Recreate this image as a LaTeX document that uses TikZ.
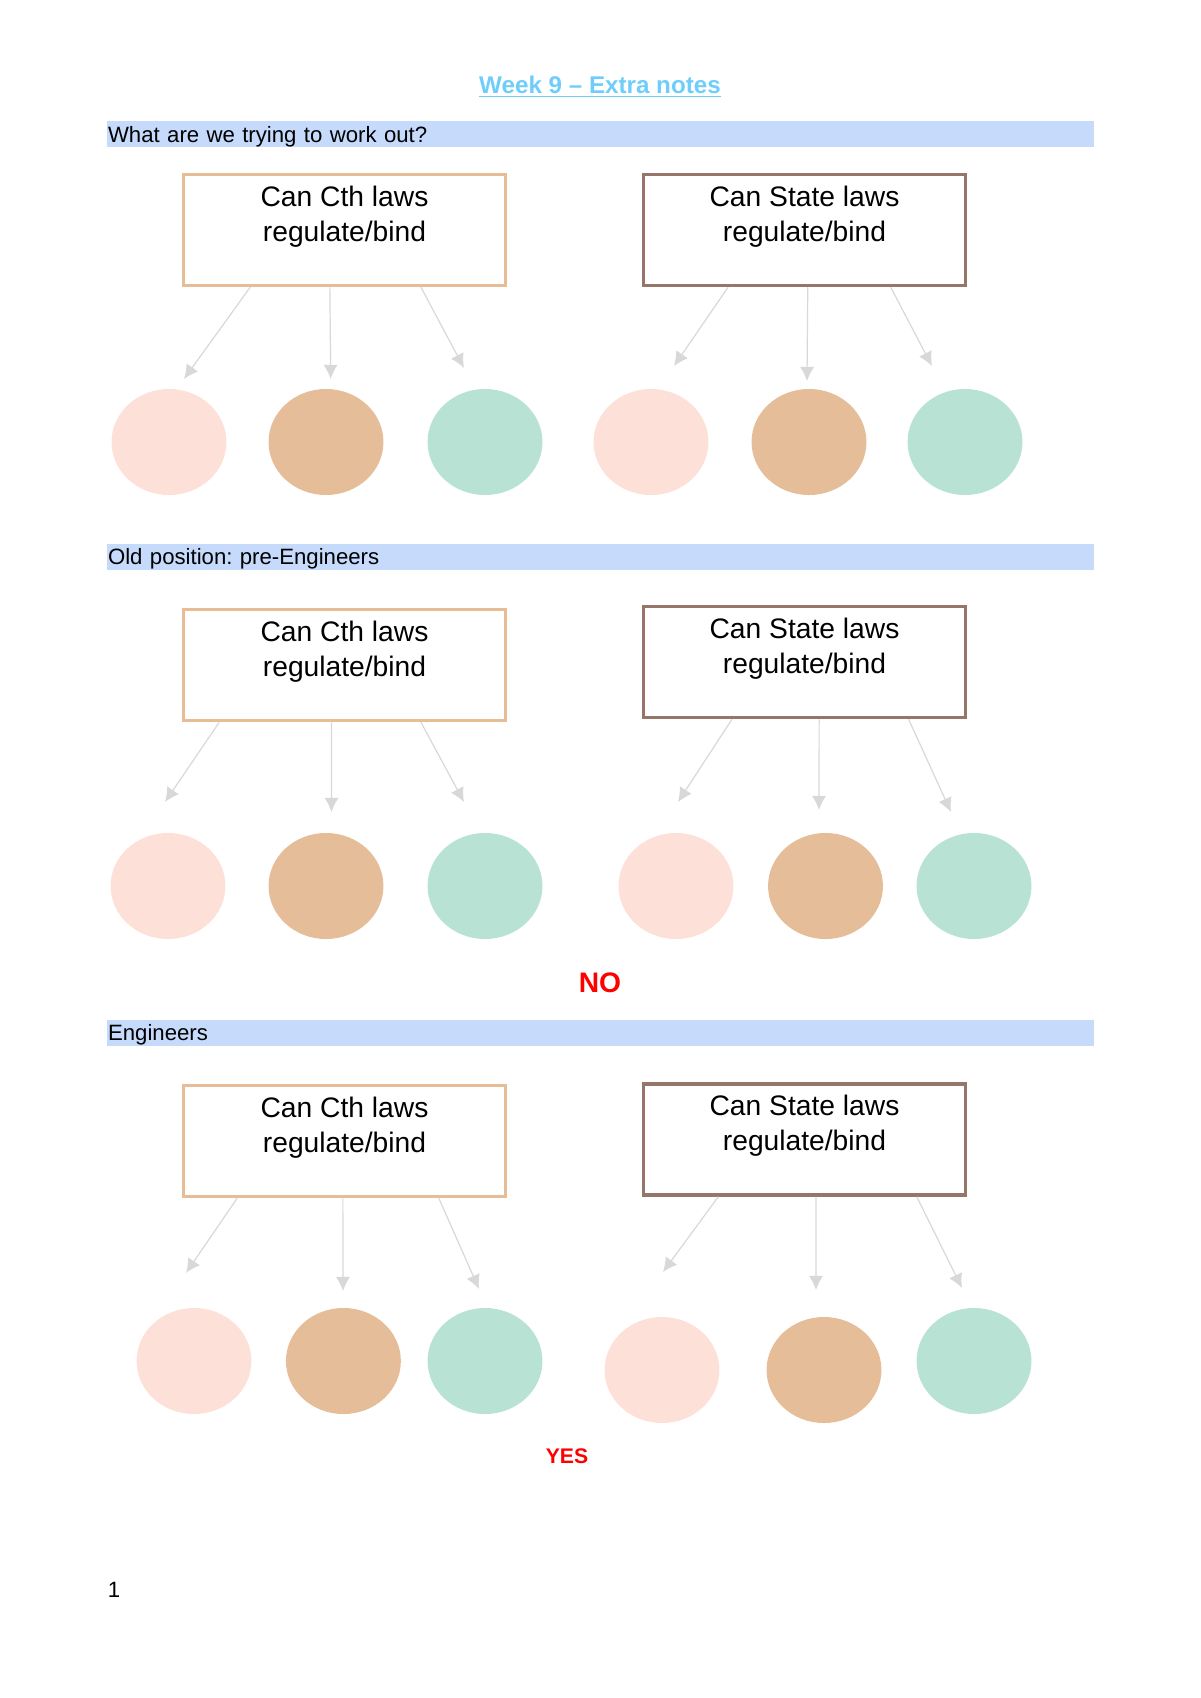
\documentclass[tikz,border=0pt]{standalone}
\usepackage{fontspec}
\setmainfont{Liberation Sans}
\usetikzlibrary{shapes.geometric,arrows.meta,calc}
\frenchspacing

\definecolor{titleblue}{RGB}{110,205,250}
\definecolor{bandblue}{RGB}{198,218,252}
\definecolor{cthtan}{RGB}{232,188,148}
\definecolor{statebrown}{RGB}{150,118,106}
\definecolor{dotpink}{RGB}{253,224,215}
\definecolor{dottan}{RGB}{229,189,152}
\definecolor{dotmint}{RGB}{184,227,212}
\definecolor{arrowgrey}{RGB}{216,216,216}

\begin{document}
\begin{tikzpicture}[
    x=0.4961pt, y=-0.4961pt,
    band/.style={
        fill=bandblue,
        minimum height=12.9pt,
        inner ysep=0pt,
        inner xsep=0.5pt,
        text height=10.5pt,
        text depth=2.3pt,
        text width=488.6pt,
        align=left,
        font=\fontsize{11}{13}\selectfont
    },
    box/.style={
        draw,
        line width=1.8pt,
        minimum width=159.6pt,
        minimum height=55pt,
        inner sep=0pt
    },
    cthbox/.style={box, draw=cthtan},
    statebox/.style={box, draw=statebrown},
    boxtext/.style={
        font=\fontsize{14}{17.5}\selectfont,
        align=center,
        anchor=north,
        inner sep=0pt,
        yshift=-6.2pt
    },
    dot/.style={
        ellipse,
        minimum width=57pt,
        minimum height=52.6pt,
        inner sep=0pt
    },
    arrow/.style={
        -{Latex[length=7pt,width=7pt]},
        arrowgrey,
        line width=0.6pt
    },
    answer/.style={text=red, font=\bfseries, anchor=base}
]
    \useasboundingbox (0,0) rectangle (1200,1698);

    % Title
    \node[anchor=base, text=titleblue, font=\fontsize{12}{14}\selectfont\bfseries] (title) at (600,93) {\underline{Week 9 -- Extra notes}};

    % Section 1
    \node[band] (band1) at (600.5,134) {What are we trying to work out?};
    \node[cthbox, label={[boxtext]north:{Can Cth laws\\regulate/bind}}] (cth1) at (344.5,230) {};
    \node[statebox, label={[boxtext]north:{Can State laws\\regulate/bind}}] (state1) at (804.5,230) {};

    \node[dot, fill=dotpink] (c11) at (169,442) {};
    \node[dot, fill=dottan] (c12) at (326,442) {};
    \node[dot, fill=dotmint] (c13) at (485,442) {};
    \node[dot, fill=dotpink] (c14) at (651,442) {};
    \node[dot, fill=dottan] (c15) at (809,442) {};
    \node[dot, fill=dotmint] (c16) at (965,442) {};

    \coordinate (t11) at (184,379);
    \coordinate (t12) at (330.7,379);
    \coordinate (t13) at (464,368);
    \coordinate (t14) at (674,366);
    \coordinate (t15) at (807,381);
    \coordinate (t16) at (932,366);

    \draw[arrow] ($(cth1.south west)!.21!(cth1.south east)$) -- (t11);
    \draw[arrow] ($(cth1.south west)!.455!(cth1.south east)$) -- (t12);
    \draw[arrow] ($(cth1.south west)!.735!(cth1.south east)$) -- (t13);
    \draw[arrow] ($(state1.south west)!.265!(state1.south east)$) -- (t14);
    \draw[arrow] ($(state1.south west)!.51!(state1.south east)$) -- (t15);
    \draw[arrow] ($(state1.south west)!.765!(state1.south east)$) -- (t16);

    % Section 2
    \node[band] (band2) at (600.5,556.5) {Old position: pre-Engineers};
    \node[cthbox, label={[boxtext]north:{Can Cth laws\\regulate/bind}}] (cth2) at (344.5,665) {};
    \node[statebox, label={[boxtext]north:{Can State laws\\regulate/bind}}] (state2) at (804.5,662) {};

    \node[dot, fill=dotpink] (c21) at (168,886) {};
    \node[dot, fill=dottan] (c22) at (326,886) {};
    \node[dot, fill=dotmint] (c23) at (485,886) {};
    \node[dot, fill=dotpink] (c24) at (676,886) {};
    \node[dot, fill=dottan] (c25) at (825.5,886) {};
    \node[dot, fill=dotmint] (c26) at (974,886) {};

    \coordinate (t21) at (165,802);
    \coordinate (t22) at (331.5,812);
    \coordinate (t23) at (464,802);
    \coordinate (t24) at (678,802);
    \coordinate (t25) at (819,810);
    \coordinate (t26) at (951,812);

    \draw[arrow] ($(cth2.south west)!.115!(cth2.south east)$) -- (t21);
    \draw[arrow] ($(cth2.south west)!.46!(cth2.south east)$) -- (t22);
    \draw[arrow] ($(cth2.south west)!.735!(cth2.south east)$) -- (t23);
    \draw[arrow] ($(state2.south west)!.277!(state2.south east)$) -- (t24);
    \draw[arrow] ($(state2.south west)!.545!(state2.south east)$) -- (t25);
    \draw[arrow] ($(state2.south west)!.82!(state2.south east)$) -- (t26);

    \node[answer, font=\fontsize{14}{16}\selectfont\bfseries] (no) at (600,992) {NO};

    % Section 3
    \node[band] (band3) at (600.5,1032.5) {Engineers};
    \node[cthbox, label={[boxtext]north:{Can Cth laws\\regulate/bind}}] (cth3) at (344.5,1141) {};
    \node[statebox, label={[boxtext]north:{Can State laws\\regulate/bind}}] (state3) at (804.5,1139.5) {};

    \node[dot, fill=dotpink] (c31) at (194,1361) {};
    \node[dot, fill=dottan] (c32) at (343.4,1361) {};
    \node[dot, fill=dotmint] (c33) at (485,1361) {};
    \node[dot, fill=dotpink] (c34) at (662,1370) {};
    \node[dot, fill=dottan] (c35) at (824,1370) {};
    \node[dot, fill=dotmint] (c36) at (974,1361) {};

    \coordinate (t31) at (186,1273);
    \coordinate (t32) at (343,1291);
    \coordinate (t33) at (479,1289);
    \coordinate (t34) at (663,1272);
    \coordinate (t35) at (816,1290);
    \coordinate (t36) at (962,1288);

    \draw[arrow] ($(cth3.south west)!.17!(cth3.south east)$) -- (t31);
    \draw[arrow] ($(cth3.south west)!.495!(cth3.south east)$) -- (t32);
    \draw[arrow] ($(cth3.south west)!.79!(cth3.south east)$) -- (t33);
    \draw[arrow] ($(state3.south west)!.235!(state3.south east)$) -- (t34);
    \draw[arrow] ($(state3.south west)!.535!(state3.south east)$) -- (t35);
    \draw[arrow] ($(state3.south west)!.845!(state3.south east)$) -- (t36);

    \node[answer, font=\fontsize{10.5}{12}\selectfont\bfseries] (yes) at (567,1463) {YES};

    % Page number
    \node[anchor=base, font=\fontsize{11}{13}\selectfont] (page) at (114,1597) {1};
\end{tikzpicture}
\end{document}
